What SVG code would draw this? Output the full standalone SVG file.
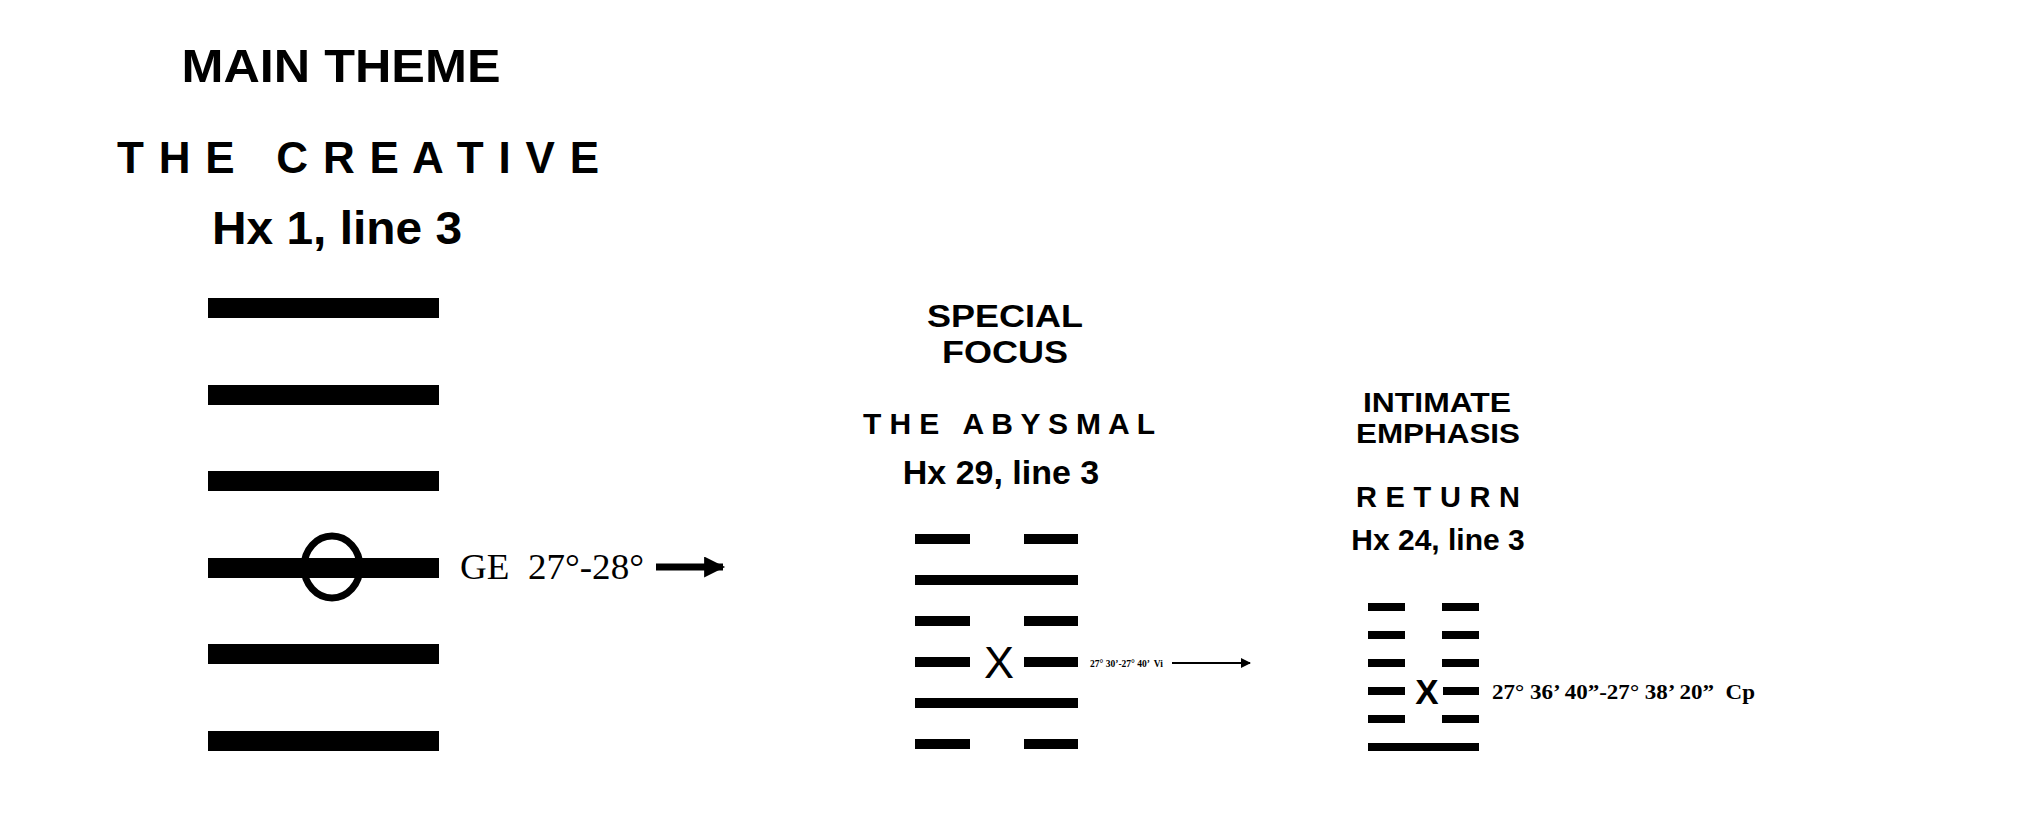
<svg xmlns="http://www.w3.org/2000/svg" width="2032" height="820" viewBox="0 0 2032 820">
<style>
.h{font-family:"Liberation Sans",Arial,sans-serif;font-weight:bold;fill:#000;text-anchor:middle}
.s{font-family:"Liberation Serif","Times New Roman",serif;fill:#000}
.x{font-family:"Liberation Sans",Arial,sans-serif;fill:#000;text-anchor:middle}
.bar{fill:#000}
</style>
<defs>
<marker id="ah" viewBox="0 0 10 10" refX="9" refY="5" markerWidth="4" markerHeight="3" markerUnits="strokeWidth" orient="auto"><path d="M0,0L10,5L0,10z" fill="#000"/></marker>
<marker id="ah2" viewBox="0 0 10 10" refX="9" refY="5" markerWidth="9" markerHeight="5" markerUnits="strokeWidth" orient="auto"><path d="M0,0L10,5L0,10z" fill="#000"/></marker>
</defs>
<rect width="2032" height="820" fill="#fff"/>

<g id="main-theme">
<text class="h" x="341" y="82" font-size="46" textLength="319" lengthAdjust="spacingAndGlyphs">MAIN THEME</text>
<text class="h" x="358" y="173" font-size="44" textLength="482" lengthAdjust="spacing" xml:space="preserve">T H E   C R E A T I V E</text>
<text class="h" x="337" y="244" font-size="46" textLength="250" lengthAdjust="spacingAndGlyphs">Hx 1, line 3</text>
<rect class="bar" x="208" y="298" width="231" height="20"/>
<rect class="bar" x="208" y="385" width="231" height="20"/>
<rect class="bar" x="208" y="471" width="231" height="20"/>
<rect class="bar" x="208" y="558" width="231" height="20"/>
<rect class="bar" x="208" y="644" width="231" height="20"/>
<rect class="bar" x="208" y="731" width="231" height="20"/>
<ellipse cx="332" cy="567" rx="28" ry="31" fill="none" stroke="#000" stroke-width="7"/>
<text class="s" x="460" y="579" font-size="35" textLength="184" lengthAdjust="spacingAndGlyphs" xml:space="preserve">GE  27°-28°</text>
</g>

<g id="special-focus">
<text class="h" x="1005" y="327" font-size="32" textLength="156" lengthAdjust="spacingAndGlyphs">SPECIAL</text>
<text class="h" x="1005" y="363" font-size="32" textLength="126" lengthAdjust="spacingAndGlyphs">FOCUS</text>
<text class="h" x="1009" y="434" font-size="30" textLength="292" lengthAdjust="spacing" xml:space="preserve">T H E   A B Y S M A L</text>
<text class="h" x="1001" y="484" font-size="34">Hx 29, line 3</text>
<rect class="bar" x="915" y="534" width="55" height="10"/>
<rect class="bar" x="1024" y="534" width="54" height="10"/>
<rect class="bar" x="915" y="575" width="163" height="10"/>
<rect class="bar" x="915" y="616" width="55" height="10"/>
<rect class="bar" x="1024" y="616" width="54" height="10"/>
<rect class="bar" x="915" y="657" width="55" height="10"/>
<rect class="bar" x="1024" y="657" width="54" height="10"/>
<rect class="bar" x="915" y="698" width="163" height="10"/>
<rect class="bar" x="915" y="739" width="55" height="10"/>
<rect class="bar" x="1024" y="739" width="54" height="10"/>
<text class="x" x="999" y="678" font-size="45">X</text>
<text class="s" x="1090" y="667" font-size="10" font-weight="bold" textLength="73" lengthAdjust="spacingAndGlyphs" xml:space="preserve">27° 30’-27° 40’  Vi</text>
</g>

<g id="intimate-emphasis">
<text class="h" x="1437" y="412" font-size="28" textLength="148" lengthAdjust="spacingAndGlyphs">INTIMATE</text>
<text class="h" x="1438" y="443" font-size="28" textLength="164" lengthAdjust="spacingAndGlyphs">EMPHASIS</text>
<text class="h" x="1438" y="507" font-size="29" textLength="164" lengthAdjust="spacing">R E T U R N</text>
<text class="h" x="1438" y="550" font-size="30">Hx 24, line 3</text>
<rect class="bar" x="1368" y="603" width="37" height="8"/>
<rect class="bar" x="1442" y="603" width="37" height="8"/>
<rect class="bar" x="1368" y="631" width="37" height="8"/>
<rect class="bar" x="1442" y="631" width="37" height="8"/>
<rect class="bar" x="1368" y="659" width="37" height="8"/>
<rect class="bar" x="1442" y="659" width="37" height="8"/>
<rect class="bar" x="1368" y="687" width="37" height="8"/>
<rect class="bar" x="1443" y="687" width="36" height="8"/>
<rect class="bar" x="1368" y="715" width="37" height="8"/>
<rect class="bar" x="1442" y="715" width="37" height="8"/>
<rect class="bar" x="1368" y="743" width="111" height="8"/>
<text class="x" x="1427" y="704" font-size="35" font-weight="bold">X</text>
<text class="s" x="1492" y="699" font-size="22" font-weight="bold" textLength="263" lengthAdjust="spacingAndGlyphs" xml:space="preserve">27° 36’ 40”-27° 38’ 20”  Cp</text>
</g>

<g id="connectors">
<line x1="656" y1="567" x2="723" y2="567" stroke="#000" stroke-width="7" marker-end="url(#ah)"/>
<line x1="1172" y1="663" x2="1250" y2="663" stroke="#000" stroke-width="2" marker-end="url(#ah2)"/>
</g>
</svg>
